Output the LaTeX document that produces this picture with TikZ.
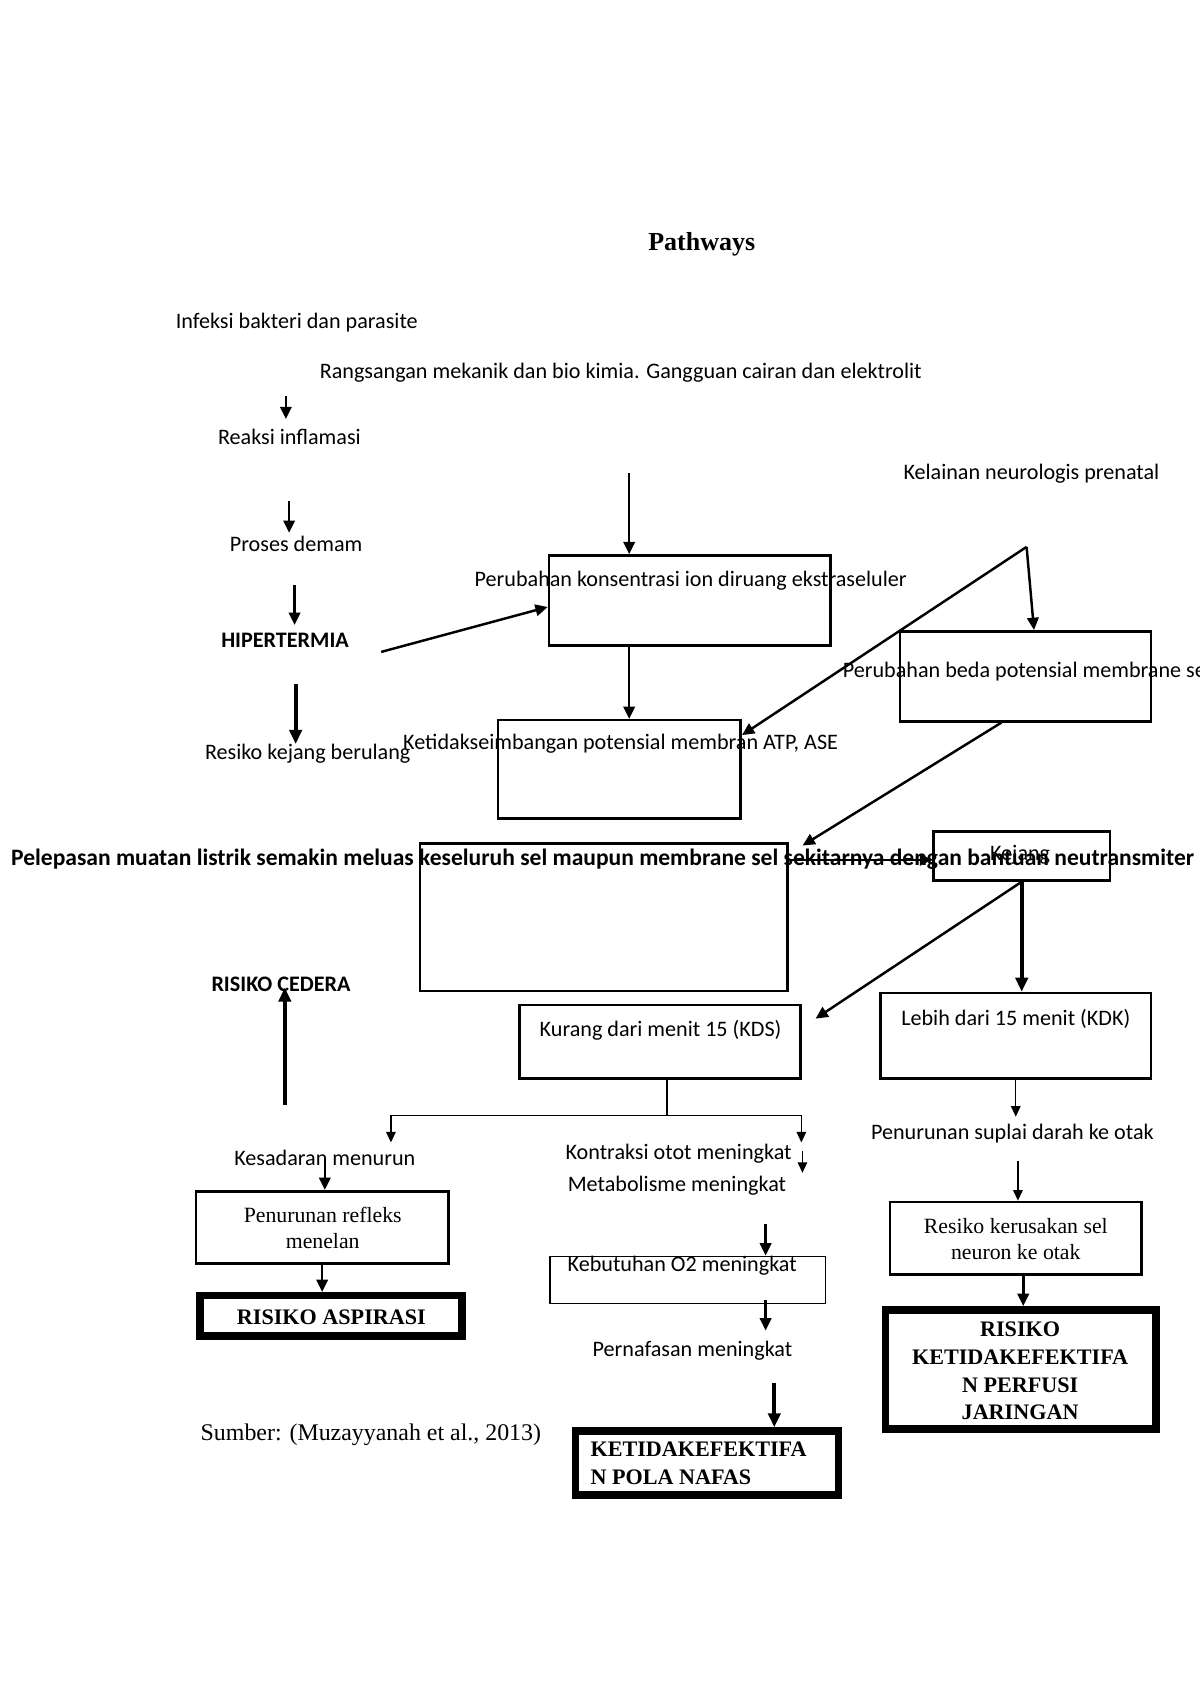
\documentclass[tikz,border=0pt]{standalone}
\usepackage{fontspec}
\setmainfont{Liberation Serif}
\newfontfamily\calib{Carlito}
\usetikzlibrary{arrows.meta,fit}

\tikzset{
  lbl/.style={font=\calib\fontsize{12.6}{14}\selectfont, inner sep=0pt, anchor=west},
  lblb/.style={lbl, font=\calib\bfseries\fontsize{12.6}{14}\selectfont},
  srf/.style={font=\fontsize{12.4}{14.6}\selectfont, inner sep=0pt, align=center},
  srfb/.style={font=\bfseries\fontsize{12.6}{15.8}\selectfont, inner sep=0pt, align=center},
  box/.style={draw, line width=1.5pt, inner sep=0pt},
  thinbox/.style={draw, line width=0.75pt, inner sep=0pt},
  heavybox/.style={draw, line width=4.3pt, inner sep=0pt},
  arr/.style={-{Triangle[length=7pt,width=6.5pt]}, line width=1.4pt},
  arrT/.style={-{Triangle[length=8pt,width=7pt]}, line width=2.15pt},
  arrs/.style={-{Triangle[length=6pt,width=5.4pt]}, line width=0.8pt},
}

\begin{document}
\begin{tikzpicture}[x=0.02166cm, y=-0.02166cm]
\useasboundingbox (0,0) rectangle (1108,1568);

% Judul
\node[font=\bfseries\fontsize{14.8}{17}\selectfont, inner sep=0pt] (judul) at (648,226) {Pathways};

% Kolom kiri
\node[lbl] (infeksi) at (162,298) {Infeksi bakteri dan parasite};
\node[lbl] (rangsang) at (295,344) {Rangsangan mekanik dan bio kimia. Gangguan cairan dan elektrolit};
\node[lbl] (reaksi) at (201,403) {Reaksi inflamasi};
\node[lbl] (proses) at (212,502) {Proses demam};
\node[lblb] (hiper) at (204,591) {HIPERTERMIA};
\node[lbl] (kejangul) at (189,696) {Resiko kejang berulang};
\node[lblb] (cedera) at (195,909) {RISIKO CEDERA};

\coordinate (a1) at (264,366);
\coordinate (a2) at (267,463);
\coordinate (a3) at (272,540);
\coordinate (a4) at (273,632);
\draw[arr] (a1) -- ++(0,21);
\draw[arr] (a2) -- ++(0,29);
\draw[arr] (a3) -- ++(0,37);
\draw[arrT] (a4) -- ++(0,55);

% Kotak tengah
\node[box, fit={(507,513) (767,596)}] (ion) {};
\node[lbl] (ionlbl) at (438,536) {Perubahan konsentrasi ion diruang ekstraseluler};
\node[box, fit={(460,665) (684,756)}] (atp) {};
\node[lbl] (atplbl) at (372,687) {Ketidakseimbangan potensial membran ATP, ASE};
\node[lbl] (kelainan) at (834,437) {Kelainan neurologis prenatal};
\node[box, fit={(831,583) (1063,666)}] (beda) {};
\node[lbl] (bedalbl) at (778,620) {Perubahan beda potensial membrane se};
\node[box, fit={(388,779) (727,915)}] (lepas) {};
\node[lblb, font=\calib\bfseries\fontsize{13.4}{15}\selectfont] (lepaslbl) at (10,793) {Pelepasan muatan listrik semakin meluas keseluruh sel maupun membrane sel sekitarnya dengan bantuan neutransmiter};
\node[box, fit={(862,768) (1025,813)}] (kejang) {};
\node[lbl, anchor=center] (kejanglbl) at (942,789) {Kejang};

\coordinate (h1) at (352,602);
\coordinate (r1) at (581,437);
\coordinate (k1) at (948,505);
\draw[arr] (h1) -- ([yshift=-0.13cm]ion.west);
\draw[arr] (r1) -- (r1 |- ion.north);
\draw[arr] (r1 |- ion.south) -- (r1 |- atp.north);
\draw[arr] (k1) -- ([yshift=-0.325cm]atp.north east);
\draw[arr] (k1) -- ([xshift=0.17cm]beda.north);
\draw[arr] ([xshift=-0.48cm]beda.south) -- ([xshift=0.28cm,yshift=-0.065cm]lepas.north east);
\draw[arr] ([yshift=-0.35cm]lepas.north east) -- ([yshift=-0.35cm]lepas.north east -| kejang.west);

% Cabang bawah
\node[box, fit={(480,928) (739,996)}] (kurang) {};
\node[lbl, anchor=center] (kuranglbl) at (610,951) {Kurang dari menit 15 (KDS)};
\node[box, fit={(813,917) (1063,996)}] (lebih) {};
\node[lbl, anchor=center] (lebihlbl) at (938,941) {Lebih dari 15 menit (KDK)};

\draw[arrT] (kejang.south) -- (kejang.south |- lebih.north);
\draw[arr] (kejang.south) -- ([xshift=0.28cm,yshift=-0.3cm]kurang.north east);
\coordinate (c1) at (263,1020);
\draw[arrT] (c1) -- ++(0,-108);

\coordinate (kb) at (616,1030);
\coordinate (kl) at (361,1055);
\coordinate (kr) at (740,1055);
\draw[line width=0.8pt] (kb |- kurang.south) -- (kb);
\draw[arrs] (kb) -| (kl);
\draw[arrs] (kb) -| (kr);

% Kolom kiri bawah
\node[lbl] (sadar) at (216,1069) {Kesadaran menurun};
\node[box, fit={(181,1100) (414,1167)}] (refleks) {};
\node[srf] (reflekslbl) at (298,1134) {Penurunan refleks\\menelan};
\node[heavybox, fit={(184.5,1196.5) (426.5,1233.5)}] (aspirasi) {};
\node[srfb] (aspirasilbl) at (306,1216) {RISIKO ASPIRASI};
\node[font=\fontsize{13.6}{15}\selectfont, inner sep=0pt, anchor=west] (sumber) at (185,1325) {Sumber: (Muzayyanah et al., 2013)};
\draw[arr] (sadar.center) -- (sadar.center |- refleks.north);
\draw[arr] (refleks.south) -- (refleks.south |- aspirasi.north);

% Kolom tengah bawah
\node[lbl] (kontraksi) at (522,1065) {Kontraksi otot meningkat};
\node[lbl] (metab) at (524,1095) {Metabolisme meningkat};
\node[thinbox, fit={(508,1160) (762,1204)}] (butuh) {};
\node[lbl, anchor=center] (butuhlbl) at (630,1169) {Kebutuhan O2 meningkat};
\node[lbl] (nafas) at (547,1247) {Pernafasan meningkat};
\node[heavybox, fit={(531.5,1321.5) (774.5,1380.5)}] (pola) {};
\node[srfb, align=left, anchor=north west] (polalbl) at (545,1331) {KETIDAKEFEKTIFA\\N POLA NAFAS};

\coordinate (ko1) at (741,1063);
\coordinate (m1) at (707,1130);
\coordinate (p1) at (715,1277);
\draw[arrs] (ko1) -- ++(0,20);
\draw[arr] (m1) -- (m1 |- butuh.north);
\draw[arr] ([yshift=0.087cm]m1 |- butuh.south) -- ++(0,28);
\draw[arrT] (p1) -- (p1 |- pola.north);

% Kolom kanan bawah
\node[lbl] (suplai) at (804,1047) {Penurunan suplai darah ke otak};
\node[box, fit={(822,1110) (1054,1177)}] (rusak) {};
\node[srf] (rusaklbl) at (938,1144) {Resiko kerusakan sel\\neuron ke otak};
\node[heavybox, fit={(817.5,1209.5) (1067.5,1319.5)}] (perfusi) {};
\node[srfb] (perfusilbl) at (942,1266) {RISIKO\\KETIDAKEFEKTIFA\\N PERFUSI\\JARINGAN};

\coordinate (s1) at (940,1072);
\draw[arrs] (lebih.south) -- ++(0,34);
\draw[arrs] (s1) -- (s1 |- rusak.north);
\draw[arr] ([xshift=0.15cm]rusak.south) -- ([xshift=0.15cm]rusak.south |- perfusi.north);

\end{tikzpicture}
\end{document}
